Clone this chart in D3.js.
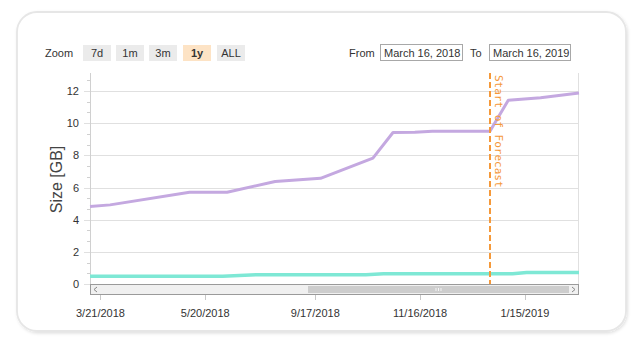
<!DOCTYPE html>
<html><head><meta charset="utf-8">
<script src="https://cdn.jsdelivr.net/npm/d3@7"></script>
<style>
html,body{margin:0;padding:0;background:#fff;}
svg text{font-family:"Liberation Sans",Arial,sans-serif;}
svg text.mono{font-family:"DejaVu Sans Mono",monospace;}
</style></head>
<body><svg id="c" width="644" height="349"></svg>
<script>
// ---- data ----
const zoomButtons = ["7d","1m","3m","1y","ALL"];
const activeButton = "1y";
const rangeFrom = "March 16, 2018";
const rangeTo = "March 16, 2019";
// x is expressed in days from the left edge of the visible window
const xDomain = [0, 280];
const tickDays = [6, 66, 129, 189, 249];
const tickLabels = ["3/21/2018","5/20/2018","9/17/2018","11/16/2018","1/15/2019"];
const yTicks = [0,2,4,6,8,10,12];
const purpleDays   = [0, 11.5, 57, 78.5, 106, 132, 162, 173.5, 186, 196, 229, 239.5, 258, 280];
const purpleValues = [4.82, 4.92, 5.71, 5.71, 6.37, 6.57, 7.83, 9.42, 9.44, 9.5, 9.5, 11.42, 11.58, 11.87];
const tealDays   = [0, 76, 96, 158, 168, 242, 250, 280];
const tealValues = [0.48, 0.48, 0.58, 0.58, 0.64, 0.64, 0.72, 0.72];
const forecastDay = 229;
const forecastLabel = "Start of Forecast";
const yTitle = "Size [GB]";

// ---- layout ----
const svg = d3.select("#c");
const L = 90, R = 579, T = 73, B = 284;
const x = d3.scaleLinear().domain(xDomain).range([L, R]);
const y = d3.scaleLinear().domain([0, 13.12]).range([B, T]);

// card
const defs = svg.append("defs");
const f = defs.append("filter").attr("id","sh").attr("x","-5%").attr("y","-5%").attr("width","110%").attr("height","115%");
f.append("feDropShadow").attr("dx",1).attr("dy",1.5).attr("stdDeviation",1.5).attr("flood-color","#000").attr("flood-opacity",0.12);
svg.append("rect").attr("x",17).attr("y",12).attr("width",609).attr("height",319).attr("rx",20)
  .attr("fill","#fff").attr("stroke","#e6e6e6").attr("stroke-width",1.8).attr("filter","url(#sh)");

// zoom buttons
svg.append("text").attr("x",45).attr("y",57).attr("font-size",11).attr("fill","#333").text("Zoom");
const bx = [83, 116, 149, 183, 217];
zoomButtons.forEach((b,i)=>{
  const g = svg.append("g").attr("transform",`translate(${bx[i]},45)`);
  g.append("rect").attr("width",28).attr("height",16).attr("fill", b===activeButton?"#fde3c5":"#ebebeb");
  g.append("text").attr("x",14).attr("y",12).attr("text-anchor","middle").attr("font-size",11)
   .attr("font-weight", b===activeButton?"bold":"normal").attr("fill","#333").text(b);
});
// range inputs
svg.append("text").attr("x",349).attr("y",57).attr("font-size",11).attr("fill","#333").text("From");
svg.append("rect").attr("x",380.5).attr("y",44.5).attr("width",82).attr("height",16).attr("fill","#fff").attr("stroke","#a8a8a8");
svg.append("text").attr("x",384).attr("y",57).attr("font-size",11).attr("fill","#333").text(rangeFrom);
svg.append("text").attr("x",470).attr("y",57).attr("font-size",11).attr("fill","#333").text("To");
svg.append("rect").attr("x",489.5).attr("y",44.5).attr("width",81).attr("height",16).attr("fill","#fff").attr("stroke","#a8a8a8");
svg.append("text").attr("x",493).attr("y",57).attr("font-size",11).attr("fill","#333").text(rangeTo);

// grid
svg.append("g").selectAll("line").data(yTicks).join("line")
  .attr("x1",84).attr("x2",R).attr("y1",d=>Math.round(y(d))+0.5).attr("y2",d=>Math.round(y(d))+0.5)
  .attr("stroke","#e0e0e0");
// minor ticks
const minor = [];
for (let v=0; v<13.12; v+=2/3) { if (Math.abs(v/2-Math.round(v/2))>0.01) minor.push(v); }
svg.append("g").selectAll("line").data(minor).join("line")
  .attr("x1",87).attr("x2",L).attr("y1",d=>Math.round(y(d))+0.5).attr("y2",d=>Math.round(y(d))+0.5)
  .attr("stroke","#d0d0d0");
svg.append("line").attr("x1",L+0.5).attr("x2",L+0.5).attr("y1",T).attr("y2",B).attr("stroke","#d0d0d0");
svg.append("line").attr("x1",R-0.5).attr("x2",R-0.5).attr("y1",T).attr("y2",B).attr("stroke","#e0e0e0");
// y labels
svg.append("g").selectAll("text").data(yTicks).join("text")
  .attr("x",79).attr("y",d=>y(d)+4).attr("text-anchor","end").attr("font-size",11).attr("fill","#333").text(d=>d);
svg.append("text").attr("transform",`translate(62,${(T+B)/2+1}) rotate(-90)`).attr("text-anchor","middle")
  .attr("font-size",16).attr("fill","#444").text(yTitle);

// lines
const line = d3.line().x(d=>x(d[0])).y(d=>y(d[1]));
svg.append("path").datum(tealDays.map((d,i)=>[d,tealValues[i]])).attr("d",line)
  .attr("fill","none").attr("stroke","#7ee8d5").attr("stroke-width",3.5);
svg.append("path").datum(purpleDays.map((d,i)=>[d,purpleValues[i]])).attr("d",line)
  .attr("fill","none").attr("stroke","#c4a8e0").attr("stroke-width",3).attr("stroke-linejoin","round");

// forecast
const fx = Math.round(x(forecastDay));
svg.append("line").attr("x1",fx).attr("x2",fx).attr("y1",T).attr("y2",B)
  .attr("stroke","#f5993a").attr("stroke-width",2).attr("stroke-dasharray","6,3");
svg.append("text").attr("class","mono").attr("transform",`translate(${fx+5},${T+2}) rotate(90)`)
  .attr("font-size",11).attr("fill","#f5993a").text(forecastLabel);

// scrollbar
svg.append("rect").attr("x",L+0.5).attr("y",B+0.5).attr("width",R-L-1).attr("height",10).attr("fill","#f0f0f0").attr("stroke","#9a9a9a");
svg.append("rect").attr("x",308).attr("y",286).attr("width",261).attr("height",7).attr("fill","#cdcdcd");
[436,438.5,441].forEach(gx=>svg.append("line").attr("x1",gx).attr("x2",gx).attr("y1",288).attr("y2",291).attr("stroke","#f4f4f4"));
svg.append("path").attr("d",`M${L+7},287 l-3,2.5 l3,2.5`).attr("fill","none").attr("stroke","#888");
svg.append("path").attr("d",`M${R-7},287 l3,2.5 l-3,2.5`).attr("fill","none").attr("stroke","#888");

// x axis
const xa = svg.append("g");
xa.selectAll("line").data(tickDays).join("line")
  .attr("x1",d=>Math.round(x(d))+0.5).attr("x2",d=>Math.round(x(d))+0.5).attr("y1",295).attr("y2",300).attr("stroke","#c8c8c8");
xa.selectAll("text").data(tickDays).join("text")
  .attr("x",d=>x(d)).attr("y",317).attr("text-anchor","middle").attr("font-size",11).attr("fill","#333")
  .text((d,i)=>tickLabels[i]);
</script></body></html>
